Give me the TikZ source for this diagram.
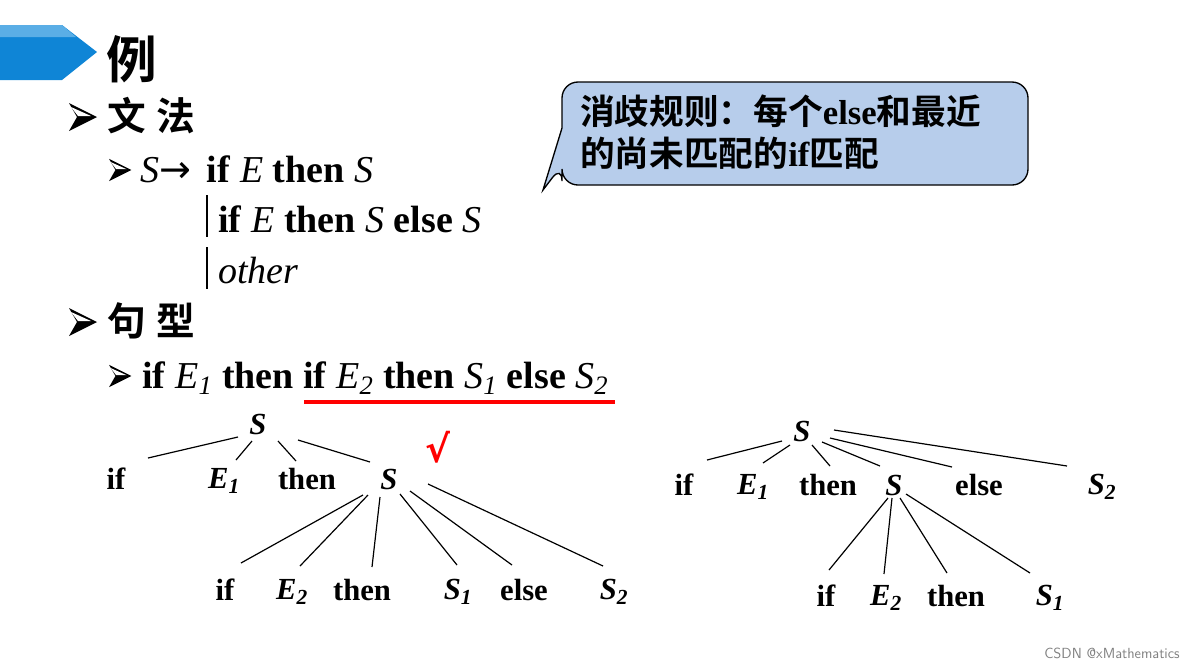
\documentclass[tikz,border=0pt]{standalone}
\usepackage{fontspec}
\setmainfont{Liberation Serif}
\newfontfamily\cjk{Noto Sans CJK SC}[BoldFont={* Bold}]
\newfontfamily\dv{DejaVu Sans}
\usetikzlibrary{calc}
\definecolor{bannerA}{HTML}{0F85D6}
\definecolor{bannerB}{HTML}{5AAEE6}
\definecolor{callfill}{HTML}{B7CDEB}
\begin{document}
\begin{tikzpicture}[x=0.75pt,y=-0.75pt,
  lbl/.style={font=\fontsize{23}{26}\selectfont\bfseries\itshape,inner sep=1pt},
  kw/.style={font=\fontsize{23}{26}\selectfont\bfseries,inner sep=1pt},
  edge/.style={line width=0.9pt},
  bul/.pic={\fill[black] (0,-14) -- (28,0) -- (0,14) -- (8,0) -- cycle;
            \fill[white] (2,-10) -- (22,-1) -- (9,-1) -- cycle;},
  txt/.style={anchor=base west,inner sep=0pt,font=\fontsize{28.5}{30}\selectfont}]
\useasboundingbox (0,0) rectangle (1195,669);
% banner
\fill[bannerA] (0,25) -- (62,25) -- (97,52) -- (62,80) -- (0,80) -- cycle;
\fill[bannerB] (0,25) -- (62,25) -- (76,37) -- (0,37) -- cycle;
\node[anchor=base west,inner sep=0pt,font=\cjk\bfseries\fontsize{38}{40}\selectfont] (li) at (106,78) {例};
% headings
\pic at (69,117) {bul};
\node[txt,font=\cjk\bfseries\fontsize{29}{30}\selectfont] (wf) at (107,130) {文\hspace{8pt}法};
\pic[scale=0.8] at (109,170) {bul};
\node[txt] (g1) at (140,182) {\textit{S}{\dv→}\, \textbf{if} \textit{E} \textbf{then} \textit{S}};
\node[txt] (g2) at (218,232) {\textbf{if} \textit{E} \textbf{then} \textit{S} \textbf{else} \textit{S}};
\node[txt] (g3) at (218,283) {\textit{other}};
\draw[line width=1.4pt] (207,195) -- (207,237);
\draw[line width=1.4pt] (207,247) -- (207,289);
\pic at (69,322) {bul};
\node[txt,font=\cjk\bfseries\fontsize{29}{30}\selectfont] (jx) at (107,335) {句\hspace{8pt}型};
\pic[scale=0.8] at (109,376) {bul};
\node[txt] (sent) at (142,388) {\textbf{if} \textit{E\textsubscript{1}} \textbf{then} \textbf{if} \textit{E\textsubscript{2}} \textbf{then} \textit{S\textsubscript{1}} \textbf{else} \textit{S\textsubscript{2}}};
\coordinate (u1) at (304,402); \coordinate (u2) at (615,402);
\draw[red,line width=2.6pt] (u1) -- (u2);
% callout
\draw[fill=callfill,line width=1pt,rounded corners=12pt] (562,82) -- (1028,82) -- (1028,185) -- (562,185) -- (562,165) [sharp corners]-- (543,190) -- (562,128) [rounded corners=12pt] -- cycle;
\node[anchor=base west,inner sep=0pt,font=\fontsize{26}{28}\selectfont\bfseries] (c1) at (580,124) {{\cjk 消歧规则：每个}else{\cjk 和最近}};
\node[anchor=base west,inner sep=0pt,font=\fontsize{26}{28}\selectfont\bfseries] (c2) at (580,166) {{\cjk 的尚未匹配的}if{\cjk 匹配}};
% tree 1
\node[lbl] (r) at (258,424) {S};
\node[kw] (a1) at (116,479) {if};
\node[lbl] (a2) at (224,481) {E\textsubscript{1}};
\node[kw] (a3) at (307,479) {then};
\node[lbl] (a4) at (389,479) {S};
\node[red,font=\dv\bfseries\fontsize{28}{30}\selectfont] (chk) at (438,447) {√};
\node[kw] (b1n) at (225,590) {if};
\node[lbl] (b2n) at (292,592) {E\textsubscript{2}};
\node[kw] (b3n) at (362,590) {then};
\node[lbl] (b4n) at (458,592) {S\textsubscript{1}};
\node[kw] (b5n) at (524,590) {else};
\node[lbl] (b6n) at (614,592) {S\textsubscript{2}};
\draw[edge] (238,437) -- (148,458);
\draw[edge] (252,441) -- (236,460);
\draw[edge] (278,441) -- (296,461);
\draw[edge] (298,440) -- (370,462);
\draw[edge] (363,495) -- (241,563);
\draw[edge] (368,495) -- (300,566);
\draw[edge] (380,497) -- (372,567);
\draw[edge] (400,494) -- (457,565);
\draw[edge] (410,491) -- (512,565);
\draw[edge] (428,484) -- (603,566);
% tree 2
\node[lbl] (t) at (802,431) {S};
\node[kw] (d1) at (684,485) {if};
\node[lbl] (d2) at (753,487) {E\textsubscript{1}};
\node[kw] (d3) at (828,485) {then};
\node[lbl] (d4) at (894,485) {S};
\node[kw] (d5) at (979,485) {else};
\node[lbl] (d6) at (1102,487) {S\textsubscript{2}};
\node[kw] (e1) at (826,596) {if};
\node[lbl] (e2) at (886,598) {E\textsubscript{2}};
\node[kw] (e3) at (956,596) {then};
\node[lbl] (e4) at (1050,598) {S\textsubscript{1}};
\draw[edge] (782,441) -- (707,460);
\draw[edge] (790,445) -- (763,463);
\draw[edge] (812,445) -- (830,466);
\draw[edge] (822,442) -- (880,466);
\draw[edge] (830,438) -- (952,467);
\draw[edge] (834,430) -- (1067,466);
\draw[edge] (888,498) -- (829,570);
\draw[edge] (892,498) -- (884,574);
\draw[edge] (900,498) -- (947,573);
\draw[edge] (906,494) -- (1030,573);
% watermark
\node[anchor=base east,inner sep=0pt,text=gray,font=\fontsize{11}{12}\selectfont\sffamily] (wm) at (1180,658) {CSDN @xMathematics};
\end{tikzpicture}
\end{document}
